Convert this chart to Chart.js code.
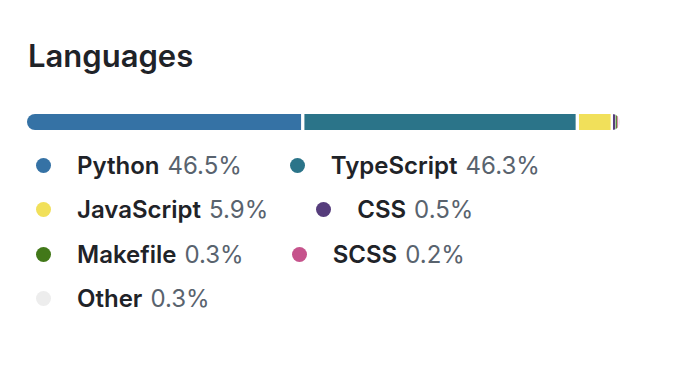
<!DOCTYPE html>
<html>
<head>
<meta charset="utf-8">
<script src="https://cdn.jsdelivr.net/npm/chart.js@4"></script>
<style>
    html, body { margin: 0; padding: 0; background: #ffffff; }
    body { width: 688px; height: 368px; position: relative; overflow: hidden; font-family: Inter, "Noto Sans", sans-serif; }
    #title { position: absolute; left: 28px; top: 36px; margin: 0; font-size: 31px; font-weight: 600; color: #1f2328; line-height: 40px; }
    #bar-wrap { position: absolute; left: 27px; top: 114px; width: 593px; height: 16px; }
    #legend { position: absolute; left: 36px; top: 143px; width: 593px; display: flex; flex-wrap: wrap; column-gap: 48px; margin: 0; padding: 0; list-style: none; }
    #legend li { display: flex; align-items: center; height: 44.5px; font-size: 24px; white-space: nowrap; }
    #legend .dot { width: 15px; height: 15px; border-radius: 50%; margin-right: 26px; }
    #legend .name { font-weight: 600; color: #1f2328; margin-right: 8px; }
    #legend .pct { color: #59636e; }
</style>
</head>
<body>
<h2 id="title">Languages</h2>
<div id="bar-wrap"><canvas id="lang-bar" width="593" height="16"></canvas></div>
<ul id="legend"></ul>

<script>
// dados das linguagens (percentagens)
const languages = ['Python', 'TypeScript', 'JavaScript', 'CSS', 'Makefile', 'SCSS', 'Other'];
const percentages = [46.5, 46.3, 5.9, 0.5, 0.3, 0.2, 0.3];
const colors = ['#3572A5', '#2b7489', '#f1e05a', '#563d7c', '#427819', '#c6538c', '#ededed'];

// separadores brancos entre segmentos
const gapWidths = [
    { left: 0, right: 2, top: 0, bottom: 0 },
    { left: 2, right: 2, top: 0, bottom: 0 },
    { left: 2, right: 2, top: 0, bottom: 0 },
    { left: 1, right: 0.5, top: 0, bottom: 0 },
    { left: 0.5, right: 0.5, top: 0, bottom: 0 },
    { left: 0.5, right: 0.5, top: 0, bottom: 0 },
    { left: 0.5, right: 0, top: 0, bottom: 0 }
];

// recorta a barra com cantos arredondados
const roundedTrack = {
    id: 'roundedTrack',
    beforeDatasetsDraw(chart) {
        const { ctx, chartArea: a } = chart;
        ctx.save();
        ctx.beginPath();
        ctx.roundRect(a.left, a.top, a.right - a.left, a.bottom - a.top, (a.bottom - a.top) / 2);
        ctx.clip();
    },
    afterDatasetsDraw(chart) {
        chart.ctx.restore();
    }
};

new Chart(document.getElementById('lang-bar').getContext('2d'), {
    type: 'bar',
    data: {
        labels: ['Languages'],
        datasets: languages.map((lang, i) => ({
            label: lang,
            data: [percentages[i]],
            backgroundColor: colors[i],
            borderColor: '#ffffff',
            borderWidth: gapWidths[i],
            borderSkipped: false,
            barPercentage: 1,
            categoryPercentage: 1
        }))
    },
    options: {
        indexAxis: 'y',
        responsive: false,
        animation: false,
        events: [],
        layout: { padding: 0 },
        plugins: { legend: { display: false }, tooltip: { enabled: false } },
        scales: {
            x: { stacked: true, min: 0, max: 100, display: false },
            y: { stacked: true, display: false }
        }
    },
    plugins: [roundedTrack]
});

// legenda em HTML
const legend = document.getElementById('legend');
languages.forEach((lang, i) => {
    const li = document.createElement('li');
    li.innerHTML = `<span class="dot" style="background:${colors[i]}"></span>` +
        `<span class="name">${lang}</span><span class="pct">${percentages[i].toFixed(1)}%</span>`;
    legend.appendChild(li);
});
</script>
</body>
</html>
